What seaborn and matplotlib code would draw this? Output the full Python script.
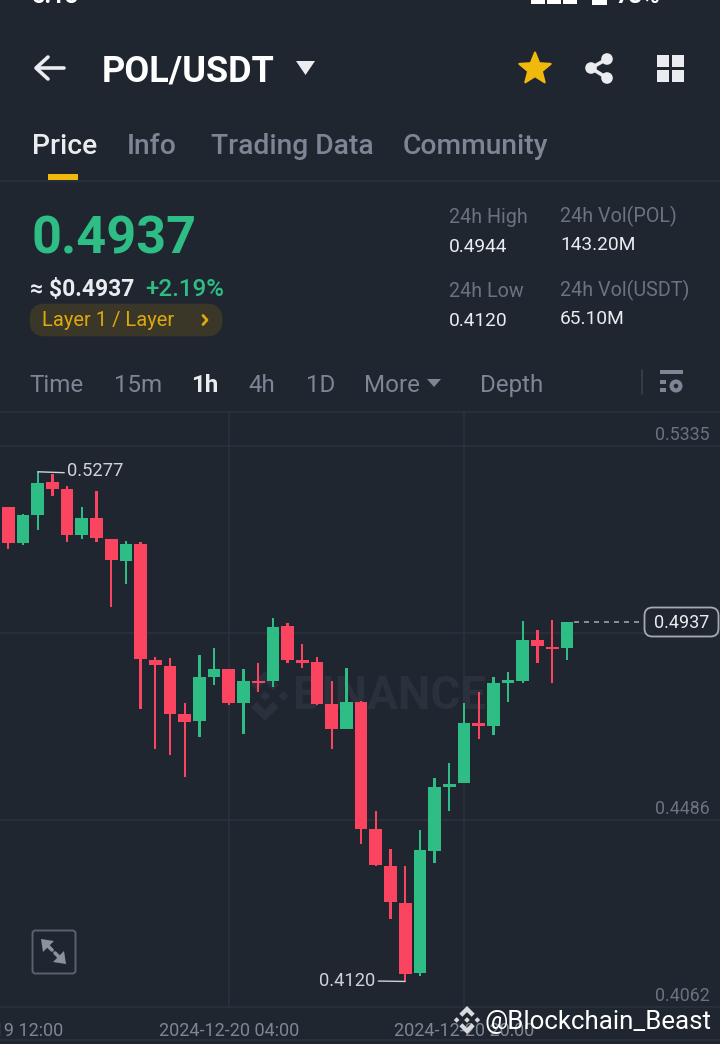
import numpy as np
import pandas as pd
import seaborn as sns
import matplotlib
matplotlib.use("Agg")
import matplotlib.pyplot as plt
from matplotlib.patches import FancyBboxPatch, Polygon, Circle, Rectangle
from matplotlib.transforms import ScaledTranslation

# ---------- data ----------
opens = [.5198, .5115, .5180, .5253, .5238, .5133, .5173, .5125, .5075, .5113,
         .4850, .4836, .4726, .4711, .4812, .4829, .4752, .4802, .4801, .4928,
         .4849, .4845, .4750, .4692, .4755, .4466, .4382, .4298, .4139, .4417,
         .4561, .4571, .4707, .4701, .4797, .4801, .4894, .4879, .4876]
closes = [.5115, .5180, .5252, .5237, .5133, .5171, .5126, .5076, .5113, .4851,
          .4838, .4726, .4709, .4810, .4829, .4752, .4801, .4797, .4925, .4850,
          .4842, .4750, .4694, .4755, .4465, .4384, .4300, .4138, .4418, .4561,
          .4569, .4706, .4701, .4797, .4804, .4894, .4881, .4874, .4937]
highs = [.5198, .5182, .5277, .5271, .5245, .5198, .5234, .5125, .5120, .5118,
         .4857, .4854, .4751, .4861, .4876, .4830, .4829, .4844, .4944, .4933,
         .4885, .4856, .4802, .4832, .4757, .4508, .4420, .4382, .4464, .4582,
         .4616, .4751, .4778, .4811, .4822, .4939, .4918, .4940, .4937]
lows = [.5102, .5110, .5145, .5222, .5117, .5124, .5117, .4970, .5022, .4738,
        .4647, .4634, .4585, .4676, .4793, .4747, .4682, .4776, .4789, .4844,
        .4832, .4748, .4648, .4692, .4431, .4381, .4261, .4120, .4132, .4388,
        .4508, .4571, .4671, .4680, .4754, .4797, .4842, .4797, .4849]
price_ticks = [.5335, .4911, .4486, .4062]
price_labels = ["0.5335", "", "0.4486", "0.4062"]
time_ticks = [-1, 15, 31]
time_labels = ["2024-12-19 12:00", "2024-12-20 04:00", "2024-12-20 20:00"]
last_price = .4937
period_high = .5277
period_low = .4120

BG = "#1f2630"
GRID = "#2b323d"
RED = "#fb4560"
GREEN = "#2ebd85"
GREY = "#7d8694"
DIM = "#6b7381"
WHITE = "#eaecef"
YELLOW = "#f0b90b"

sns.set_theme(style="dark", rc={"axes.facecolor": BG, "figure.facecolor": BG})
plt.rcParams["font.family"] = ["Roboto", "DejaVu Sans"]

W, H = 720, 1044
fig = plt.figure(figsize=(W / 100, H / 100), dpi=100, facecolor=BG)


def px_axes(x0, y0, x1, y1, z):
    a = fig.add_axes([x0 / W, 1 - y1 / H, (x1 - x0) / W, (y1 - y0) / H], zorder=z)
    return a


def overlay(z):
    a = px_axes(0, 0, W, H, z)
    a.set_xlim(0, W)
    a.set_ylim(H, 0)
    a.axis("off")
    a.patch.set_alpha(0)
    return a


back = overlay(0)
front = overlay(5)


def logo(a, cx, cy, s, color, z=1):
    top = [(0, -1), (.55, -.45), (.33, -.23), (0, -.56), (-.33, -.23), (-.55, -.45)]
    for sign in (1, -1):
        a.add_patch(Polygon([(cx + s * x, cy + sign * s * y) for x, y in top],
                            closed=True, fc=color, ec="none", zorder=z))
    for dx in (-.74, 0, .74):
        d = .2
        a.add_patch(Polygon([(cx + s * (dx - d), cy), (cx + s * dx, cy - s * d),
                             (cx + s * (dx + d), cy), (cx + s * dx, cy + s * d)],
                            closed=True, fc=color, ec="none", zorder=z))


# ---------- header chrome ----------
back.text(32, 3, "5:18", color="white", fontsize=17, fontweight="bold", va="baseline")
for x in (531, 547, 563):
    back.add_patch(Rectangle((x, 0), 14, 4, fc="white", ec="none"))
back.add_patch(Rectangle((592, 0), 15, 5, fc="white", ec="none"))
back.text(615, 3, "73%", color="white", fontsize=17, fontweight="bold", va="baseline")

back.plot([37, 64], [68, 68], color=WHITE, lw=2.6, solid_capstyle="round")
back.plot([48, 36, 48], [57, 68, 79], color=WHITE, lw=2.6, solid_capstyle="round", solid_joinstyle="round")
back.text(102, 81, "POL/USDT", color="white", fontsize=26, fontweight="bold", va="baseline")
back.add_patch(Polygon([(296, 61), (315, 61), (305.5, 75)], closed=True, fc=WHITE, ec="none"))

star = [(535 + (16.5 if i % 2 == 0 else 7.2) * np.sin(i * np.pi / 5),
         69 - (16.5 if i % 2 == 0 else 7.2) * np.cos(i * np.pi / 5)) for i in range(10)]
back.add_patch(Polygon(star, closed=True, fc=YELLOW, ec=YELLOW, lw=1.5, joinstyle="round"))

back.plot([607, 591, 607], [59, 68, 78], color=WHITE, lw=2.6)
for cx, cy in [(607, 59), (591, 68), (607, 78)]:
    back.add_patch(Circle((cx, cy), 5.8, fc=WHITE, ec="none"))
for x, y in [(657, 55), (672, 55), (657, 70), (672, 70)]:
    back.add_patch(Rectangle((x, y), 11.5, 11.5, fc=WHITE, ec="none"))

for x, t, c, w in [(32, "Price", WHITE, "medium"), (127, "Info", GREY, "medium"),
                   (211, "Trading Data", GREY, "medium"), (403, "Community", GREY, "medium")]:
    back.text(x, 154, t, color=c, fontsize=20.3, fontweight=w, va="baseline")
back.add_patch(Rectangle((48, 174), 30, 6, fc=YELLOW, ec="none"))
back.axhline(181, color=GRID, lw=1.2)

# ---------- price block ----------
back.text(31, 254, "0.4937", color=GREEN, fontsize=37.5, fontweight="bold", va="baseline")
back.text(30, 296, "≈ $0.4937", color=WHITE, fontsize=16.5, fontweight="bold", va="baseline",
          family=["Roboto", "DejaVu Sans"])
back.text(145, 296, "+2.19%", color=GREEN, fontsize=17.4, fontweight="medium", va="baseline")
back.add_patch(FancyBboxPatch((38, 312), 176, 16, boxstyle="round,pad=0,rounding_size=6",
                              mutation_aspect=1, fc="#3a3628", ec="#3a3628", lw=12))
back.text(42, 326, "Layer 1 / Layer", color="#dca90e", fontsize=14.5, va="baseline")
back.plot([203, 207, 203], [315.5, 320, 324.5], color="#dca90e", lw=2)

for x, y, t, c, fs in [(449, 223, "24h High", DIM, 14.2), (449, 252, "0.4944", WHITE, 13.8),
                       (560, 222, "24h Vol(POL)", DIM, 14.2), (560, 250, "143.20M", WHITE, 13.8),
                       (449, 297, "24h Low", DIM, 14.2), (449, 326, "0.4120", WHITE, 13.8),
                       (560, 296, "24h Vol(USDT)", DIM, 14.2), (560, 324, "65.10M", WHITE, 13.8)]:
    back.text(x, y, t, color=c, fontsize=fs, va="baseline")

# ---------- interval row ----------
for x, t, c, w in [(29.5, "Time", GREY, "normal"), (113.5, "15m", GREY, "normal"), (191.5, "1h", WHITE, "bold"),
                   (248, "4h", GREY, "normal"), (305.5, "1D", GREY, "normal"), (364.5, "More", GREY, "normal"),
                   (479.5, "Depth", GREY, "normal")]:
    back.text(x, 392, t, color=c, fontsize=17.4, fontweight=w, va="baseline")
back.add_patch(Polygon([(427, 379), (441, 379), (434, 387)], closed=True, fc=GREY, ec="none"))
back.plot([642, 642], [370, 394], color="#3a414d", lw=1.2)
back.add_patch(Rectangle((660, 370), 23, 3.5, fc=GREY, ec="none"))
back.add_patch(Rectangle((660, 380), 6, 3.5, fc=GREY, ec="none"))
back.add_patch(Rectangle((660, 388), 6, 3.5, fc=GREY, ec="none"))
back.add_patch(Circle((676, 386), 6.5, fc=GREY, ec="none"))
back.add_patch(Circle((676, 386), 2.3, fc=BG, ec="none"))
back.axhline(412, color=GRID, lw=1.2)
back.axhline(1040, color=GRID, lw=1.2)

# watermark behind the candles
back.text(389, 696, "BINANCE", color="#2a313c", fontsize=33, fontweight="bold", ha="center", va="center")
logo(back, 265, 696, 25, "#2a313c")

# ---------- candle chart ----------
df = pd.DataFrame({"idx": np.arange(len(opens)), "open": opens, "close": closes, "high": highs, "low": lows})
df["top"] = df[["open", "close"]].max(axis=1)
df["bot"] = df[["open", "close"]].min(axis=1)
df["body"] = df["top"] - df["bot"]
df["wick"] = df["high"] - df["low"]

ax = px_axes(-30, 412, W, 1007, 1)
ax.patch.set_alpha(0)
for sub, col in [(df[df.close >= df.open], GREEN), (df[df.close < df.open], RED)]:
    sub = sub.assign(idx=sub["idx"].astype(float))
    sns.barplot(data=sub, x="idx", y="wick", bottom=sub["low"].values, native_scale=True, width=.15,
                color=col, saturation=1, errorbar=None, linewidth=0, ax=ax, zorder=3)
    sns.barplot(data=sub, x="idx", y="body", bottom=sub["bot"].values, native_scale=True, width=.87,
                color=col, saturation=1, errorbar=None, linewidth=0, ax=ax, zorder=3)

x_at = lambda p: (p - 8.3) / 14.7
ax.set_xlim(x_at(-30), x_at(W))
ax.set_ylim(.4062, .54127)
for s in ax.spines.values():
    s.set_visible(False)
ax.grid(False)
ax.set_xlabel("")
ax.set_ylabel("")

ax.set_yticks(price_ticks, price_labels)
ax.tick_params(axis="y", left=False, right=False, labelleft=False, labelright=True, pad=-13.6,
               labelsize=12.8, labelcolor=DIM)
shift = ScaledTranslation(0, 1.6 / 72, fig.dpi_scale_trans)
for lab in ax.get_yticklabels():
    lab.set_ha("right")
    lab.set_va("bottom")
    lab.set_transform(lab.get_transform() + shift)
ax.set_xticks(time_ticks, time_labels)
ax.tick_params(axis="x", bottom=False, pad=5, labelsize=13, labelcolor=GREY)
for p in price_ticks:
    ax.axhline(p, color=GRID, lw=1.2, zorder=1, clip_on=False)
for t in time_ticks[1:]:
    ax.axvline(t, color=GRID, lw=1.2, zorder=1)

ax.annotate(f"{period_high:.4f}", xy=(2, period_high), xytext=(67.5, 471), textcoords=back.transData,
            color="#cfd3d9", fontsize=13.2, ha="left", va="center",
            arrowprops=dict(arrowstyle="-", color="#cfd3d9", lw=1, shrinkA=0, shrinkB=0, relpos=(0, .4)), zorder=4,
            annotation_clip=False)
ax.annotate(f"{period_low:.4f}", xy=(27, period_low), xytext=(375, 981), textcoords=back.transData,
            color="#cfd3d9", fontsize=13.2, ha="right", va="center",
            arrowprops=dict(arrowstyle="-", color="#cfd3d9", lw=1, shrinkA=0, shrinkB=0, relpos=(1, .5)), zorder=4,
            annotation_clip=False)
ax.plot([38.45, x_at(644)], [last_price, last_price], color="#9aa1ac", lw=1.2, ls=(0, (3, 3)), zorder=2)

# last-price tag
front.add_patch(FancyBboxPatch((644.5, 607.5), 74, 29, boxstyle="round,pad=0,rounding_size=8",
                               fc=BG, ec="#a4aab4", lw=1.3, zorder=3))
front.text(682, 622.5, f"{last_price:.4f}", color=WHITE, fontsize=13, ha="center", va="center", zorder=4)

# expand button
front.add_patch(FancyBboxPatch((32.5, 930.5), 43, 43, boxstyle="round,pad=0,rounding_size=3",
                               fc="none", ec="#5a6270", lw=1.4))
front.plot([44, 52], [942, 950], color="#8a929e", lw=2.6)
front.plot([55, 63], [953, 961], color="#8a929e", lw=2.6)
front.add_patch(Polygon([(41, 939), (54, 941), (43, 952)], closed=True, fc="#8a929e", ec="none"))
front.add_patch(Polygon([(66, 964), (53, 962), (64, 951)], closed=True, fc="#8a929e", ec="none"))

# site watermark
logo(front, 467, 1020, 14, "#d8dade", z=6)
front.text(485, 1028.5, "@Blockchain_Beast", color="white", fontsize=18.6, va="baseline", zorder=6)

fig.savefig("out.png", dpi=100, facecolor=BG)
